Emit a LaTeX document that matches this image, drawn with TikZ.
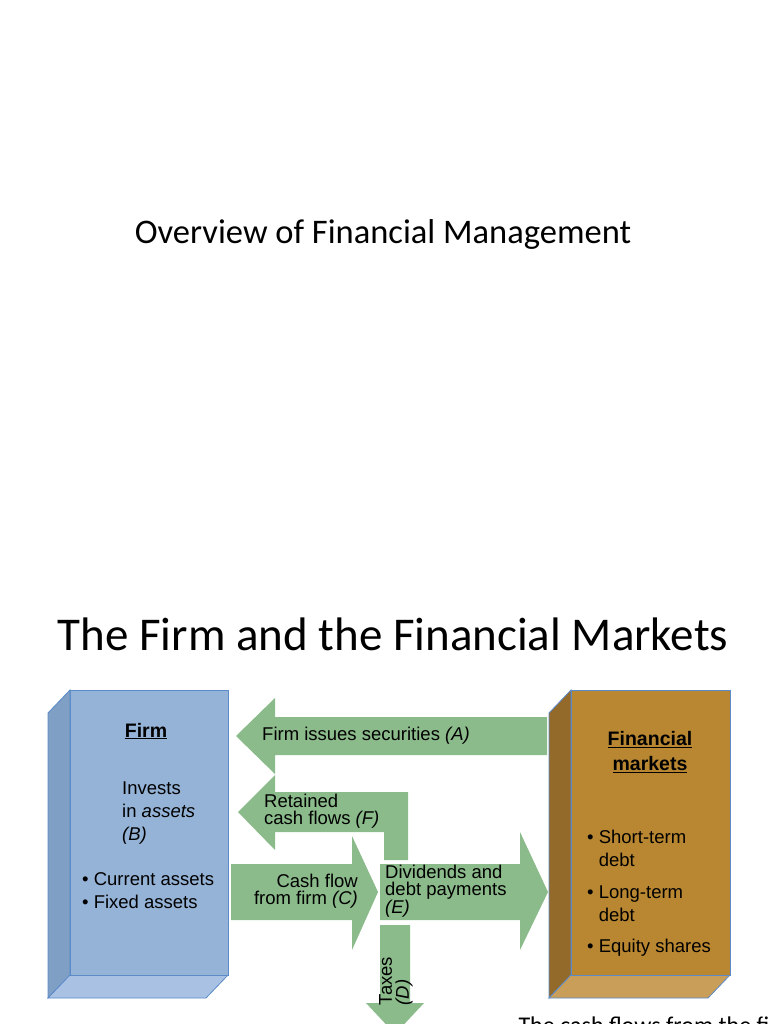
\documentclass[tikz,border=0pt]{standalone}
\usepackage{fontspec}
\setmainfont{Liberation Sans}
\newfontfamily\titlefont{Carlito}
\usetikzlibrary{positioning}
\definecolor{flowgreen}{HTML}{8BBB8B}
\definecolor{firmfront}{HTML}{95B3D7}
\definecolor{firmside}{HTML}{809FC4}
\definecolor{firmbottom}{HTML}{A9C2E3}
\definecolor{mktfront}{HTML}{B98731}
\definecolor{mktside}{HTML}{946A2A}
\definecolor{mktbottom}{HTML}{C89E58}
\definecolor{edgeblue}{HTML}{5B8BC9}
\tikzset{
  flow/.style={fill=flowgreen, draw=none},
  boxedge/.style={draw=edgeblue, line width=0.8pt},
  lbl/.style={font=\fontsize{18.5}{17}\selectfont, inner sep=0pt},
  widelbl/.style={font=\fontsize{18.5}{23}\selectfont, inner sep=0pt},
  lblleft/.style={lbl, anchor=west, align=left},
  heading/.style={font=\fontsize{19.5}{25}\selectfont\bfseries, inner sep=0pt, align=center}
}
\begin{document}
\begin{tikzpicture}[x=1pt,y=-1pt]
  \useasboundingbox[fill=white] (0,0) rectangle (768,1024);
  \clip (0,0) rectangle (768,1024);

  % titles
  \node[font=\titlefont\fontsize{34.5}{40}\selectfont] (overview) at (383,234) {Overview of Financial Management};
  \node[font=\titlefont\fontsize{47}{54}\selectfont] (title) at (393,634) {The Firm and the Financial Markets};

  % firm box
  \filldraw[boxedge, fill=firmside] (48,713) -- (70,690) -- (70,975) -- (48,998) -- cycle;
  \filldraw[boxedge, fill=firmbottom] (70,975) -- (228,975) -- (206,998) -- (48,998) -- cycle;
  \filldraw[boxedge, fill=firmfront] (70,690) rectangle (228,975);

  % markets box
  \filldraw[boxedge, fill=mktside] (549,713) -- (571,690) -- (571,975) -- (549,998) -- cycle;
  \filldraw[boxedge, fill=mktbottom] (571,975) -- (730,975) -- (708,998) -- (549,998) -- cycle;
  \filldraw[boxedge, fill=mktfront] (571,690) rectangle (730,975);

  % flows
  \fill[flow] (236,736) -- (275,698) -- (275,717) -- (547,717) -- (547,755) -- (275,755) -- (275,774) -- cycle;
  \fill[flow] (238,812) -- (275,775) -- (275,792) -- (408,792) -- (408,860) -- (384,860)
              -- (384,832) -- (275,832) -- (275,850) -- cycle;
  \fill[flow] (231,864) -- (352,864) -- (352,836) -- (378,892) -- (352,950) -- (352,920) -- (231,920) -- cycle;
  \fill[flow] (380,864) -- (520,864) -- (520,832) -- (548,892) -- (520,950) -- (520,920) -- (380,920) -- cycle;
  \fill[flow] (380,925) -- (410,925) -- (410,1003) -- (424,1003) -- (395,1034) -- (366,1003) -- (380,1003) -- cycle;

  % firm text
  \node[heading] (firm) at (146,731) {\underline{Firm}};
  \node[widelbl, anchor=west, align=left] (invests) at (122,813) {Invests\\in \textit{assets}\\\textit{(B)}};
  \node[lblleft] (current) at (82,879) {• Current assets};
  \node[lblleft] (fixed) at (82,902) {• Fixed assets};

  % market text
  \node[heading] (markets) at (650,752) {\underline{Financial}\\\underline{markets}};
  \node[widelbl, anchor=west, align=left] (short) at (587,848) {• Short-term\\\phantom{• }debt};
  \node[widelbl, anchor=west, align=left] (long) at (587,904) {• Long-term\\\phantom{• }debt};
  \node[lblleft] (equity) at (587,948) {• Equity shares};

  % flow labels
  \node[lblleft] (issues) at (262,736) {Firm issues securities \textit{(A)}};
  \node[lblleft] (retained) at (264,811) {Retained\\cash flows \textit{(F)}};
  \node[lbl, anchor=east, align=right] (cashflow) at (358,891) {Cash flow\\from firm \textit{(C)}};
  \node[lblleft] (dividends) at (385,891) {Dividends and\\debt payments\\\textit{(E)}};
  \node[lbl, rotate=90, align=left] (taxes) at (396,981) {Taxes\\\textit{(D)}};

  % caption cut at the page edge
  \node[font=\titlefont\fontsize{24}{28}\selectfont, anchor=north west] (caption) at (515,1013) {The cash flows from the firm};
\end{tikzpicture}
\end{document}
